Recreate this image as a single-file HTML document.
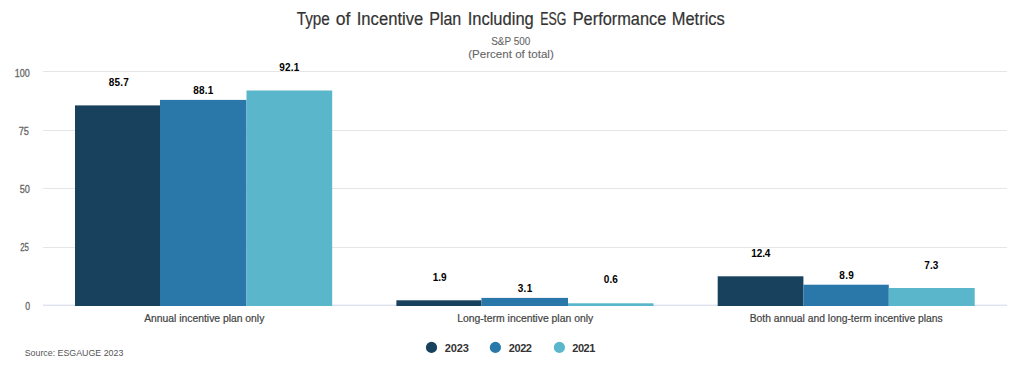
<!DOCTYPE html>
<html><head><meta charset="utf-8">
<style>
html,body{margin:0;padding:0;background:#fff;width:1024px;height:382px;overflow:hidden}
svg{display:block}
text{font-family:"Liberation Sans",sans-serif}
</style></head>
<body>
<svg width="1024" height="382" viewBox="0 0 1024 382">
<rect x="0" y="0" width="1024" height="382" fill="#ffffff"/>
<g stroke="#e6e6e6" stroke-width="1" fill="none">
<line x1="43" y1="71.5" x2="1007" y2="71.5"/>
<line x1="43" y1="130.5" x2="1007" y2="130.5"/>
<line x1="43" y1="188.5" x2="1007" y2="188.5"/>
<line x1="43" y1="247.5" x2="1007" y2="247.5"/>
</g>
<line x1="43" y1="305.2" x2="1007" y2="305.2" stroke="#d0d8e8" stroke-width="1"/>
<rect x="75.0" y="105.4" width="85.00" height="200.60" fill="#17415d"/>
<rect x="160.0" y="99.9" width="86.50" height="206.10" fill="#2978a9"/>
<rect x="246.5" y="90.5" width="85.70" height="215.50" fill="#5ab7cb"/>
<rect x="396.4" y="300.3" width="85.00" height="5.70" fill="#17415d"/>
<rect x="481.4" y="297.9" width="86.60" height="8.10" fill="#2978a9"/>
<rect x="568.0" y="303.3" width="85.50" height="2.70" fill="#5ab7cb"/>
<rect x="717.7" y="276.3" width="85.70" height="29.70" fill="#17415d"/>
<rect x="803.4" y="284.7" width="85.40" height="21.30" fill="#2978a9"/>
<rect x="888.8" y="288.0" width="85.90" height="18.00" fill="#5ab7cb"/>
<circle cx="431.5" cy="347.4" r="5.6" fill="#17415d"/>
<circle cx="495.4" cy="347.4" r="5.6" fill="#2978a9"/>
<circle cx="559.4" cy="347.4" r="5.6" fill="#5ab7cb"/>
<text stroke="#333333" stroke-width="0.2" x="296.70" y="25.0" font-size="17.5" fill="#333333" textLength="33.12" lengthAdjust="spacingAndGlyphs">Type</text>
<text stroke="#333333" stroke-width="0.2" x="335.70" y="25.0" font-size="17.5" fill="#333333" textLength="14.65" lengthAdjust="spacingAndGlyphs">of</text>
<text stroke="#333333" stroke-width="0.2" x="356.70" y="25.0" font-size="17.5" fill="#333333" textLength="66.59" lengthAdjust="spacingAndGlyphs">Incentive</text>
<text stroke="#333333" stroke-width="0.2" x="429.20" y="25.0" font-size="17.5" fill="#333333" textLength="32.09" lengthAdjust="spacingAndGlyphs">Plan</text>
<text stroke="#333333" stroke-width="0.2" x="467.70" y="25.0" font-size="17.5" fill="#333333" textLength="66.08" lengthAdjust="spacingAndGlyphs">Including</text>
<text stroke="#333333" stroke-width="0.2" x="540.20" y="25.0" font-size="17.5" fill="#333333" textLength="26.12" lengthAdjust="spacingAndGlyphs">ESG</text>
<text stroke="#333333" stroke-width="0.2" x="572.70" y="25.0" font-size="17.5" fill="#333333" textLength="93.59" lengthAdjust="spacingAndGlyphs">Performance</text>
<text stroke="#333333" stroke-width="0.2" x="671.70" y="25.0" font-size="17.5" fill="#333333" textLength="53.11" lengthAdjust="spacingAndGlyphs">Metrics</text>
<text stroke="#666666" stroke-width="0.1" x="491.20" y="44.5" font-size="11" fill="#666666" textLength="39.11" lengthAdjust="spacingAndGlyphs">S&amp;P 500</text>
<text stroke="#666666" stroke-width="0.1" x="468.20" y="57.7" font-size="11" fill="#666666" textLength="85.62" lengthAdjust="spacingAndGlyphs">(Percent of total)</text>
<text stroke="#666666" stroke-width="0.3" x="14.70" y="76.7" font-size="11" fill="#666666" textLength="15.10" lengthAdjust="spacingAndGlyphs">100</text>
<text stroke="#666666" stroke-width="0.3" x="18.70" y="135.1" font-size="11" fill="#666666" textLength="10.25" lengthAdjust="spacingAndGlyphs">75</text>
<text stroke="#666666" stroke-width="0.3" x="19.70" y="193.1" font-size="11" fill="#666666" textLength="10.18" lengthAdjust="spacingAndGlyphs">50</text>
<text stroke="#666666" stroke-width="0.3" x="20.20" y="251.1" font-size="11" fill="#666666" textLength="8.79" lengthAdjust="spacingAndGlyphs">25</text>
<text stroke="#666666" stroke-width="0.3" x="25.20" y="309.6" font-size="11" fill="#666666" textLength="4.86" lengthAdjust="spacingAndGlyphs">0</text>
<text x="108.70" y="85.7" font-size="10" font-weight="bold" fill="#000000" textLength="20.16" lengthAdjust="spacing">85.7</text>
<text x="193.20" y="93.8" font-size="10" font-weight="bold" fill="#000000" textLength="20.18" lengthAdjust="spacing">88.1</text>
<text x="279.20" y="71.1" font-size="10" font-weight="bold" fill="#000000" textLength="20.18" lengthAdjust="spacing">92.1</text>
<text x="432.70" y="280.8" font-size="10" font-weight="bold" fill="#000000" textLength="13.78" lengthAdjust="spacing">1.9</text>
<text x="517.70" y="291.7" font-size="10" font-weight="bold" fill="#000000" textLength="14.63" lengthAdjust="spacing">3.1</text>
<text x="603.70" y="283.4" font-size="10" font-weight="bold" fill="#000000" textLength="14.19" lengthAdjust="spacing">0.6</text>
<text x="751.20" y="256.8" font-size="10" font-weight="bold" fill="#000000" textLength="19.17" lengthAdjust="spacing">12.4</text>
<text x="839.20" y="278.8" font-size="10" font-weight="bold" fill="#000000" textLength="14.70" lengthAdjust="spacing">8.9</text>
<text x="924.20" y="268.6" font-size="10" font-weight="bold" fill="#000000" textLength="14.21" lengthAdjust="spacing">7.3</text>
<text stroke="#444444" stroke-width="0.2" x="144.20" y="322.1" font-size="10" fill="#444444" textLength="120.12" lengthAdjust="spacingAndGlyphs">Annual incentive plan only</text>
<text stroke="#444444" stroke-width="0.2" x="457.20" y="322.1" font-size="10" fill="#444444" textLength="136.10" lengthAdjust="spacingAndGlyphs">Long-term incentive plan only</text>
<text stroke="#444444" stroke-width="0.2" x="749.70" y="322.1" font-size="10" fill="#444444" textLength="193.11" lengthAdjust="spacingAndGlyphs">Both annual and long-term incentive plans</text>
<text x="444.70" y="351.7" font-size="11" font-weight="bold" fill="#333333" textLength="24.15" lengthAdjust="spacing">2023</text>
<text x="508.70" y="351.7" font-size="11" font-weight="bold" fill="#333333" textLength="23.27" lengthAdjust="spacing">2022</text>
<text x="572.20" y="351.7" font-size="11" font-weight="bold" fill="#333333" textLength="23.15" lengthAdjust="spacing">2021</text>
<text x="24.70" y="356" font-size="9" fill="#555555" textLength="98.61" lengthAdjust="spacingAndGlyphs">Source: ESGAUGE 2023</text>
</svg>
</body></html>
